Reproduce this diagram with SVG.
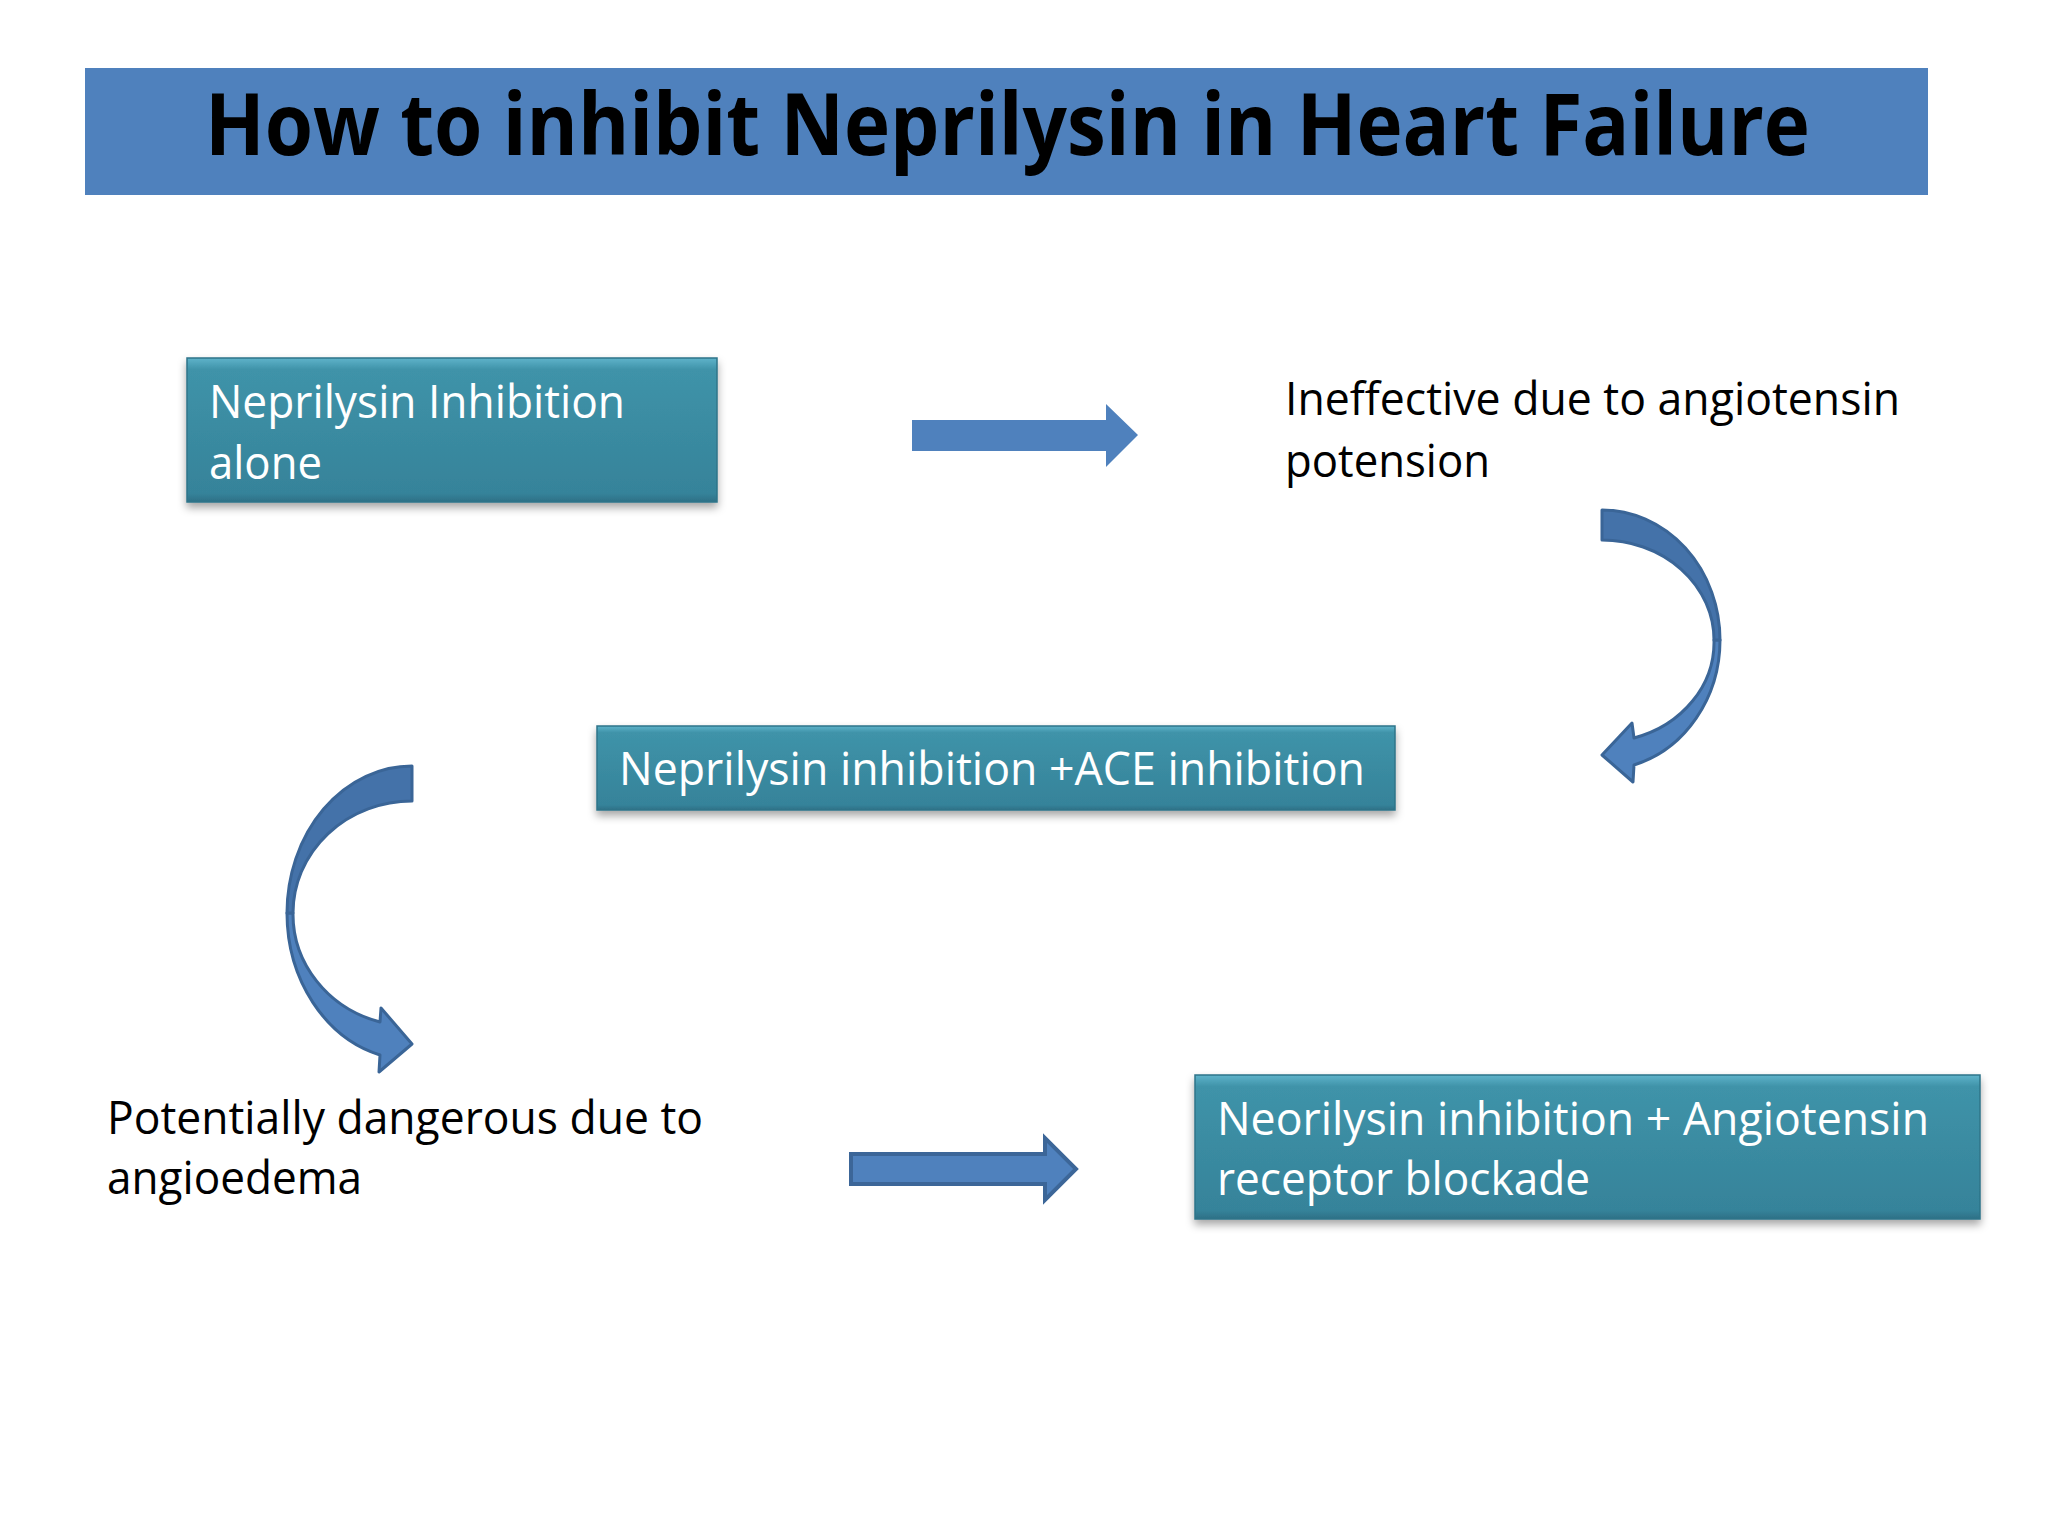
<svg xmlns="http://www.w3.org/2000/svg" width="2048" height="1536" viewBox="0 0 2048 1536">
<defs>
<linearGradient id="teal" x1="0" y1="0" x2="0" y2="1">
<stop offset="0" stop-color="#5FB3CA"/>
<stop offset="0.08" stop-color="#3F93A9"/>
<stop offset="0.5" stop-color="#3A8BA1"/>
<stop offset="0.94" stop-color="#36839A"/>
<stop offset="1" stop-color="#2D7086"/>
</linearGradient>
<filter id="sh" x="-5%" y="-10%" width="110%" height="130%">
<feDropShadow dx="0" dy="5" stdDeviation="4" flood-color="#000" flood-opacity="0.35"/>
</filter>
<style>
.box{fill:url(#teal);stroke:#2E7489;stroke-width:1.5;filter:url(#sh)}
.wt{font-family:"Open Sans","Liberation Sans",sans-serif;font-size:45px;fill:#ffffff}
.bt{font-family:"Open Sans","Liberation Sans",sans-serif;font-size:45px;fill:#000000}
.dark{fill:#4472A9;stroke:#3A6597;stroke-width:3;stroke-linejoin:round}
.light{fill:#4F81BD;stroke:#3A6597;stroke-width:3;stroke-linejoin:round}
</style>
</defs>
<rect width="2048" height="1536" fill="#ffffff"/>
<g id="title">
<rect x="85" y="68" width="1843" height="127" fill="#4F81BD"/>
<text x="205" y="155" font-family="'Open Sans','Liberation Sans',sans-serif" font-weight="bold" font-size="86" fill="#000" textLength="1605" lengthAdjust="spacingAndGlyphs">How to inhibit Neprilysin in Heart Failure</text>
</g>
<g id="node-alone">
<rect class="box" x="187" y="358" width="530" height="144"/>
<text class="wt" x="209" y="418" textLength="416" lengthAdjust="spacingAndGlyphs">Neprilysin Inhibition</text>
<text class="wt" x="209" y="479" textLength="113" lengthAdjust="spacingAndGlyphs">alone</text>
</g>
<g id="node-ineffective">
<text class="bt" x="1285" y="415" textLength="615" lengthAdjust="spacingAndGlyphs">Ineffective due to angiotensin</text>
<text class="bt" x="1285" y="477" textLength="205" lengthAdjust="spacingAndGlyphs">potension</text>
</g>
<g id="node-ace">
<rect class="box" x="597" y="726" width="798" height="84"/>
<text class="wt" x="619" y="785" textLength="746" lengthAdjust="spacingAndGlyphs">Neprilysin inhibition +ACE inhibition</text>
</g>
<g id="node-dangerous">
<text class="bt" x="107" y="1134" textLength="596" lengthAdjust="spacingAndGlyphs">Potentially dangerous due to</text>
<text class="bt" x="107" y="1194" textLength="255" lengthAdjust="spacingAndGlyphs">angioedema</text>
</g>
<g id="node-arb">
<rect class="box" x="1195" y="1075" width="785" height="144"/>
<text class="wt" x="1217" y="1135" textLength="712" lengthAdjust="spacingAndGlyphs">Neorilysin inhibition + Angiotensin</text>
<text class="wt" x="1217" y="1195" textLength="373" lengthAdjust="spacingAndGlyphs">receptor blockade</text>
</g>
<g id="connectors">
<polygon points="912,420 1106,420 1106,404 1138,435 1106,467 1106,451 912,451" fill="#4F81BD"/>
<polygon points="851,1154 1045,1154 1045,1138 1076,1169 1045,1200 1045,1184 851,1184" fill="#4F81BD" stroke="#3C6698" stroke-width="4" stroke-linejoin="miter"/>
<path class="light" d="M1720,640 A118,130 0 0 1 1634,765 L1633,782 L1602,755 L1632,723 L1634,738 A112,100 0 0 0 1714,640 Z"/>
<path class="dark" d="M1602,510 A118,130 0 0 1 1720,640 L1714,640 A112,100 0 0 0 1602,540 Z"/>
<path class="light" d="M287,913 A125,147 0 0 0 380,1055 L379,1072 L412,1044 L381,1008 L380,1022 A119,112 0 0 1 293,913 Z"/>
<path class="dark" d="M412,766 A125,147 0 0 0 287,913 L293,913 A119,112 0 0 1 412,801 Z"/>
</g>
</svg>
